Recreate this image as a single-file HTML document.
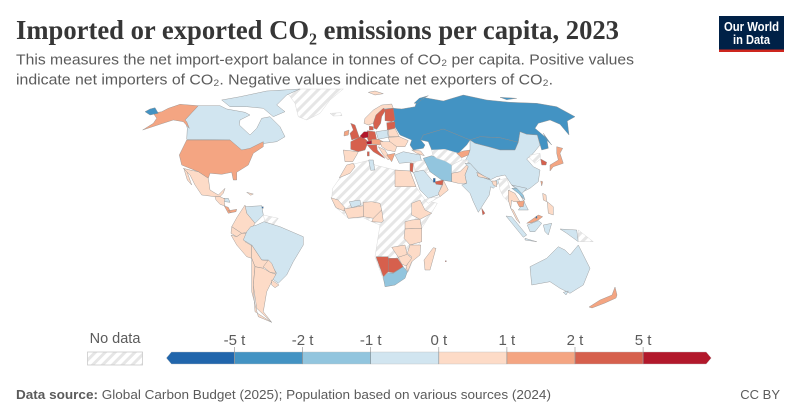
<!DOCTYPE html>
<html><head><meta charset="utf-8">
<style>
html,body{margin:0;padding:0;background:#fff}
svg{display:block}
text{font-family:"Liberation Sans",sans-serif}
</style></head>
<body>
<svg id="chart" xmlns="http://www.w3.org/2000/svg" width="800" height="418" viewBox="0 0 800 418">
<defs>
<pattern id="hatch" patternUnits="userSpaceOnUse" width="7" height="7" patternTransform="rotate(-45)">
<rect width="7" height="7" fill="#fff"></rect>
<rect width="7" height="3" fill="#e6e6e6"></rect>
</pattern>
</defs>
<rect width="800" height="418" fill="#fff"></rect>
<text x="16" y="39" font-size="27" font-weight="700" fill="#363636" textLength="603" lengthAdjust="spacingAndGlyphs" style="font-family:'Liberation Serif',serif">Imported or exported CO₂ emissions per capita, 2023</text>
<text x="16" y="64.5" font-size="15" fill="#5b5b5b" textLength="618" lengthAdjust="spacingAndGlyphs">This measures the net import-export balance in tonnes of CO₂ per capita. Positive values</text>
<text x="16" y="84.5" font-size="15" fill="#5b5b5b" textLength="537" lengthAdjust="spacingAndGlyphs">indicate net importers of CO₂. Negative values indicate net exporters of CO₂.</text>
<g>
<rect x="719" y="16" width="65" height="36" fill="#002147"></rect>
<rect x="719" y="49.5" width="65" height="2.5" fill="#ce261e"></rect>
<text x="751.5" y="31" font-size="13" font-weight="700" fill="#fff" text-anchor="middle" textLength="55" lengthAdjust="spacingAndGlyphs">Our World</text>
<text x="751.5" y="44" font-size="13" font-weight="700" fill="#fff" text-anchor="middle" textLength="37" lengthAdjust="spacingAndGlyphs">in Data</text>
</g>
<g id="map"></g>
<g id="legend">
<text x="115" y="343" font-size="14.5" fill="#5b5b5b" text-anchor="middle">No data</text>
<rect x="87.5" y="352" width="55" height="13" fill="url(#hatch)" stroke="#c4c4c4" stroke-width=".7"></rect>
</g>
<text x="16" y="399" font-size="13" fill="#5b5b5b" textLength="535" lengthAdjust="spacingAndGlyphs"><tspan font-weight="700">Data source:</tspan> Global Carbon Budget (2025); Population based on various sources (2024)</text>
<text x="780" y="399" font-size="13" fill="#5b5b5b" text-anchor="end">CC BY</text>
</svg>
<script>
/* Legend data */
var legendTicks = [-5, -2, -1, 0, 1, 2, 5];
var binColors = ['#2166ac', '#4393c3', '#92c5de', '#d1e5f0', '#fddbc7', '#f4a582', '#d6604d', '#b2182b'];

/* Net CO2 import per capita (t), estimated from the map; null means no data */
var countryNames = [
'Greenland','Iceland','Canada','Canada-Arctic','Alaska','USA','Mexico','Baja','Chukotka','Cuba','Haiti','Guatemala-Honduras','Costa-Rica','Panama',
'Venezuela','Trinidad','Guyana-Suriname','Colombia','Ecuador','Peru','Brazil','Bolivia','Paraguay','Chile','Argentina','Uruguay',
'Africa-Rest','Morocco','Tunisia','Egypt','Ethiopia','Senegal-Guinea','Ivory-Coast-Ghana','Burkina-Faso','Nigeria','Cameroon','Kenya','Tanzania','Zambia','Mozambique','Zimbabwe','Namibia','Botswana','South-Africa','Madagascar','Mauritius',
'Russia','Novaya-Zemlya','Franz-Josef','Sakhalin','Kazakhstan','Mongolia','China','North-Korea','South-Korea','Japan','Taiwan',
'Norway','Svalbard','Sweden','Finland','Baltics','UK','Ireland','France','Spain-Portugal','Germany','Denmark','Benelux','Switzerland','Poland','Austria-Czechia','Italy','Sardinia','Belarus','Ukraine','Romania-Bulgaria','Balkans','Greece','Turkey',
'Caucasus','Iraq-Syria','Iran','Saudi-Arabia','UAE','Qatar','Oman','Yemen','Israel','Central-Asia','Kyrgyzstan-Tajikistan','Afghanistan','Pakistan','India','Nepal','Bangladesh','Sri-Lanka',
'Myanmar','Thailand','Vietnam','Laos','Cambodia','Malay-Peninsula','Sumatra','Java','Malaysia-Borneo','Brunei','Kalimantan','Sulawesi','New-Guinea-West','Papua-New-Guinea','Philippines-North','Philippines-South','Australia','Tasmania','New-Zealand'];
var countryValues = [
null,null,-0.5,-0.5,1.5,1.6,0.4,0.4,-3,-0.4,0.5,0.5,1.5,1.5,
-0.5,-6,null,0.4,0.5,0.4,-0.4,0.4,0.4,0.6,0.4,0.5,
null,0.5,-0.4,0.5,0.2,0.3,0.3,-0.3,0.3,0.3,0.2,0.2,0.3,0.2,0.4,3,3,-1.5,0.2,3,
-3,-3,-3,-3,-3,-3,-0.4,null,3.2,1.6,1.5,
0.6,0.6,3,3,3,3.2,1.6,3,0.8,3.2,3,7,7,-0.5,1.6,3,3,0.5,0.5,0.6,0.8,1.5,-0.5,
0.6,null,-1.5,-0.6,3.5,-6,0.6,null,3.5,null,1.5,null,0.4,-0.5,0.4,0.3,2.5,
null,0.5,-0.5,-1.5,1.5,0.6,-0.5,-0.5,1.6,-6,-0.5,-0.4,-0.4,null,0.5,0.5,-0.5,-0.5,1.5];

/* Outline geometry only, in local map frames */
var americasOutlines = {
'Greenland':'470,20 510,12 640,12 600,45 570,85 530,105 505,95 495,55',
'Iceland':'600,85 632,83 636,92 610,93',
'Canada':'205,62 270,62 290,72 345,82 360,90 330,105 328,120 360,150 380,130 395,100 420,95 450,125 465,155 440,170 405,175 385,185 360,195 330,195 300,165 170,163 172,130 165,105',
'Canada-Arctic':'275,45 330,35 410,18 510,12 470,30 440,60 465,80 430,95 400,70 350,65 300,65',
'Alaska':'205,62 150,58 115,70 95,80 70,85 80,100 70,115 38,135 90,118 130,105 160,110 178,130 170,110 165,105',
'USA':'170,165 300,165 335,195 360,190 390,175 400,170 400,185 370,205 355,240 320,262 320,285 310,285 305,262 275,268 240,265 235,280 205,260 155,240 148,210',
'Mexico':'160,250 180,255 205,260 235,280 240,315 265,330 285,310 280,325 270,335 255,335 215,330 195,300 180,270',
'Baja':'162,252 172,262 185,300 172,285',
'Chukotka':'45,80 60,72 75,68 85,85 60,90',
'Cuba':'270,340 295,340 300,352 285,350',
'Haiti':'350,322 370,327 362,331',
'Guatemala-Honduras':'255,335 270,335 285,342 283,350 285,363 270,358 258,345',
'Costa-Rica':'283,363 295,367 303,383 295,385',
'Panama':'295,377 320,373 318,380 303,383',
'Venezuela':'345,365 395,362 400,390 375,415 350,385',
'Trinidad':'396,365 400,365 400,370 396,370',
'Guyana-Suriname':'400,390 445,400 430,420 405,410',
'Colombia':'345,360 350,385 375,415 360,440 335,445 305,425 322,395',
'Ecuador':'305,425 335,445 320,455 303,445',
'Peru':'303,450 320,455 335,445 350,445 345,470 365,482 365,520 350,515 320,480',
'Brazil':'350,440 362,425 380,420 402,410 450,425 520,455 520,480 490,530 470,570 445,595 425,580 440,565 415,525 395,525 365,480 340,465',
'Bolivia':'365,480 395,525 415,527 400,550 375,545 365,520',
'Paraguay':'400,545 415,525 425,535 438,565 420,562',
'Chile':'365,520 375,545 370,600 375,680 425,712 385,695 365,620',
'Argentina':'375,545 400,550 420,562 438,568 425,590 410,620 400,680 425,712 380,670 370,600',
'Uruguay':'425,585 447,600 435,608 425,600'
};
var easternOutlines = {
'Africa-Rest':'30,278 60,240 120,225 135,240 195,255 240,258 258,305 285,345 322,355 310,375 275,430 270,470 235,560 195,600 168,605 135,515 150,420 125,410 100,398 55,400 15,365 5,338 8,310',
'Morocco':'28,278 50,240 70,235 75,245 60,265',
'Tunisia':'116,225 130,225 134,255 122,256',
'Egypt':'195,255 240,258 258,305 195,305',
'Ethiopia':'245,355 270,345 285,375 305,385 270,403 245,390',
'Senegal-Guinea':'3,338 24,345 45,368 42,378 18,368',
'Ivory-Coast-Ghana':'42,372 65,368 100,362 100,395 55,400',
'Burkina-Faso':'58,350 90,345 92,360 65,368',
'Nigeria':'100,352 125,350 150,355 155,375 130,400 100,395',
'Cameroon':'130,400 155,375 160,408 155,412 125,410',
'Kenya':'245,405 270,403 275,430 255,430 225,432 225,410',
'Tanzania':'225,432 255,430 275,430 275,470 240,480 222,460',
'Zambia':'185,487 225,480 232,510 205,517',
'Mozambique':'240,480 272,480 270,510 245,530 233,560 228,545 245,515 232,505',
'Zimbabwe':'205,517 232,508 245,520 228,543 215,537',
'Namibia':'138,515 175,515 175,560 160,575',
'Botswana':'175,520 203,520 220,545 190,563 175,560',
'South-Africa':'160,577 175,563 190,565 220,545 232,560 225,580 195,600 165,605',
'Madagascar':'310,488 318,490 300,555 285,555 282,525',
'Mauritius':'346,527 349,527 349,530 346,530',
'Russia':'190,70 215,72 255,65 260,50 285,38 340,48 400,30 470,45 540,52 620,55 680,65 735,95 712,108 717,150 690,118 660,105 625,115 615,130 650,160 655,190 635,195 622,150 590,148 570,140 565,172 510,158 450,155 420,165 340,132 280,150 272,165 285,180 280,190 250,195 240,180 245,165 210,150 192,120',
'Novaya-Zemlya':'252,55 268,40 295,32 280,40 262,55',
'Franz-Josef':'510,37 560,40 530,44',
'Sakhalin':'640,145 665,180 650,165',
'Kazakhstan':'280,150 340,132 420,165 410,180 385,205 345,193 305,195 295,170 272,165',
'Mongolia':'420,165 450,155 510,158 565,172 555,195 510,195 475,185 435,175',
'China':'420,165 435,175 475,185 510,195 555,195 565,172 570,140 590,148 622,150 630,180 610,205 598,215 590,222 610,245 630,255 625,290 600,310 570,325 545,300 525,270 500,275 480,285 445,262 420,235 405,228 415,210 420,195',
'North-Korea':'600,210 630,205 632,222 615,235 598,218',
'South-Korea':'632,222 650,232 648,240 635,240',
'Japan':'680,185 698,190 690,205 700,235 670,245 660,258 660,240 685,225 680,205',
'Taiwan':'632,288 638,290 635,303',
'Svalbard':'115,22 135,18 160,26 135,30',
'Caucasus':'245,195 272,198 283,212 260,205',
'Iraq-Syria':'240,225 250,230 285,225 300,260 280,265 255,258 250,235',
'Iran':'280,220 305,212 345,225 365,240 365,290 335,285 300,260',
'Saudi-Arabia':'250,262 280,255 310,290 335,300 325,330 295,340 270,315',
'UAE':'315,290 340,285 338,300 318,298',
'Qatar':'310,280 316,280 316,292 310,292',
'Oman':'340,285 355,315 330,335 325,325 338,300',
'Yemen':'283,345 295,340 330,335 295,355',
'Israel':'240,235 250,235 248,262 240,258',
'Central-Asia':'305,195 345,193 385,205 395,222 395,225 365,240 345,228 320,220 308,210',
'Kyrgyzstan-Tajikistan':'380,205 400,198 420,195 415,210 395,218',
'Afghanistan':'365,240 395,225 415,225 410,240 390,260 365,265',
'Pakistan':'365,265 390,260 410,240 415,245 405,270 410,295 385,295 365,290',
'India':'405,235 420,235 445,262 442,272 480,285 488,292 510,280 505,295 490,310 482,305 478,330 445,382 430,350 420,325 395,300 410,295 405,270 415,245',
'Nepal':'440,262 480,282 445,275',
'Bangladesh':'485,288 500,288 500,305 490,300',
'Sri-Lanka':'455,370 465,385 458,390',
'Myanmar':'505,285 530,280 540,310 535,350 520,335 510,315',
'Thailand':'535,315 555,325 570,350 550,350 545,345 542,370 535,345',
'Vietnam':'545,300 590,310 572,330 595,375 565,375 583,350 570,330 560,310',
'Laos':'545,310 560,310 580,330 585,345 565,325',
'Cambodia':'560,350 583,347 580,365 568,365',
'Malay-Peninsula':'542,370 550,375 570,415 560,405',
'Sumatra':'528,393 545,395 590,450 580,457',
'Java':'585,460 620,470 585,465',
'Malaysia-Borneo':'590,415 625,390 638,395 625,405 605,413',
'Brunei':'617,395 621,393 621,400 617,400',
'Kalimantan':'592,420 625,407 635,415 615,440 600,440',
'Sulawesi':'640,420 665,415 655,450 645,440',
'New-Guinea-West':'690,432 740,435 745,470 710,445',
'Papua-New-Guinea':'745,435 790,470 745,470',
'Philippines-North':'638,325 648,330 650,350 640,345',
'Philippines-South':'652,350 670,365 670,390 655,385',
'Australia':'600,545 650,520 685,485 705,495 720,510 745,480 780,550 760,600 720,625 690,610 660,590 605,600',
'Tasmania':'700,622 715,618 708,630',
'New-Zealand':'777,666 810,645 846,630 855,606 861,630 858,639 825,654 786,669'
};
var europeOutlines = {
'Norway':'72,70 75,55 100,30 125,15 155,12 160,25 130,25 108,45 100,70 85,75',
'Sweden':'100,70 108,45 130,25 137,30 125,50 122,70 110,88 102,85',
'Finland':'135,28 160,25 165,60 155,65 135,62 135,50',
'Baltics':'140,68 165,65 165,85 142,90',
'UK':'32,70 45,75 58,112 35,120 30,100 40,90',
'Ireland':'13,95 27,90 25,105 12,108',
'France':'32,125 65,108 85,125 75,150 55,155 32,148',
'Spain-Portugal':'10,150 55,155 50,165 38,185 15,185',
'Germany':'82,92 105,95 110,120 88,128 80,110',
'Denmark':'88,78 100,80 100,90 88,90',
'Benelux':'60,108 72,95 85,95 85,112 68,115',
'Switzerland':'78,125 95,122 97,132 82,133',
'Poland':'108,95 142,90 145,112 115,118',
'Austria-Czechia':'95,118 115,118 130,125 120,135 95,132',
'Italy':'82,135 110,135 112,150 135,175 128,172 100,155 90,145',
'Sardinia':'82,155 88,155 88,168 82,168',
'Belarus':'145,90 165,85 178,110 147,110',
'Ukraine':'145,112 178,110 205,122 195,140 170,140 150,128',
'Romania-Bulgaria':'120,125 150,125 170,140 165,155 140,150 125,140',
'Balkans':'115,140 135,150 150,175 145,180 130,165',
'Greece':'140,165 165,160 155,185',
'Turkey':'165,165 190,155 240,165 245,185 210,187 178,190'
};

/* Axis functions for the local map frames and colour scale */
function americasX(z){ return 130 + z / 3; }
function americasY(z){ return 85 + z / 3; }
function easternX(z){ return 330 + z / 3; }
function easternY(z){ return 85 + z / 3; }
function europeX(z){ return 340 + z / 3; }
function europeY(z){ return 100 + z / 3; }
function legendX(i){ return 234.5 + i * 68.1; }
function binColor(v){
  var i = 0;
  while (i < legendTicks.length && v >= legendTicks[i]) i++;
  return binColors[i];
}
function toPoints(str, fx, fy){
  return str.split(' ').map(function(p){
    var a = p.split(',');
    return fx(+a[0]).toFixed(1) + ',' + fy(+a[1]).toFixed(1);
  }).join(' ');
}

var NS = 'http://www.w3.org/2000/svg';
var map = document.getElementById('map');
countryNames.forEach(function(name, i){
  var pts;
  if (americasOutlines[name]) pts = toPoints(americasOutlines[name], americasX, americasY);
  else if (europeOutlines[name]) pts = toPoints(europeOutlines[name], europeX, europeY);
  else if (easternOutlines[name]) pts = toPoints(easternOutlines[name], easternX, easternY);
  else return;
  var v = countryValues[i];
  var el = document.createElementNS(NS, 'polygon');
  el.setAttribute('points', pts);
  el.setAttribute('fill', v === null ? 'url(#hatch)' : binColor(v));
  el.setAttribute('stroke', v === null ? '#d0d0d0' : '#8c8c8c');
  el.setAttribute('stroke-width', '0.4');
  el.setAttribute('stroke-linejoin', 'round');
  
  
  map.appendChild(el);
});

var legend = document.getElementById('legend');
binColors.forEach(function(color, i){
  var x0 = legendX(i - 1), x1 = legendX(i);
  var bin;
  if (i === 0) {
    bin = document.createElementNS(NS, 'polygon');
    bin.setAttribute('points', (x0 + 5) + ',352 ' + x1 + ',352 ' + x1 + ',364 ' + (x0 + 5) + ',364 ' + x0 + ',358');
  } else if (i === binColors.length - 1) {
    bin = document.createElementNS(NS, 'polygon');
    bin.setAttribute('points', x0 + ',352 ' + (x1 - 5) + ',352 ' + x1 + ',358 ' + (x1 - 5) + ',364 ' + x0 + ',364');
  } else {
    bin = document.createElementNS(NS, 'rect');
    bin.setAttribute('x', x0);
    bin.setAttribute('y', 352);
    bin.setAttribute('width', x1 - x0);
    bin.setAttribute('height', 12);
  }
  bin.setAttribute('fill', color);
  bin.setAttribute('stroke', '#bdbdbd');
  bin.setAttribute('stroke-width', '0.4');
  
  
  legend.appendChild(bin);
});
legendTicks.forEach(function(t, i){
  var tick = document.createElementNS(NS, 'line');
  tick.setAttribute('x1', legendX(i));
  tick.setAttribute('x2', legendX(i));
  tick.setAttribute('y1', 347);
  tick.setAttribute('y2', 364);
  tick.setAttribute('stroke', '#8c8c8c');
  tick.setAttribute('stroke-width', '0.6');
  
  
  legend.appendChild(tick);
  var label = document.createElementNS(NS, 'text');
  label.setAttribute('x', legendX(i));
  label.setAttribute('y', 345);
  label.setAttribute('font-size', '15');
  label.setAttribute('fill', '#5b5b5b');
  label.setAttribute('text-anchor', 'middle');
  
  
  label.textContent = t + ' t';
  legend.appendChild(label);
});
</script>
</body></html>
